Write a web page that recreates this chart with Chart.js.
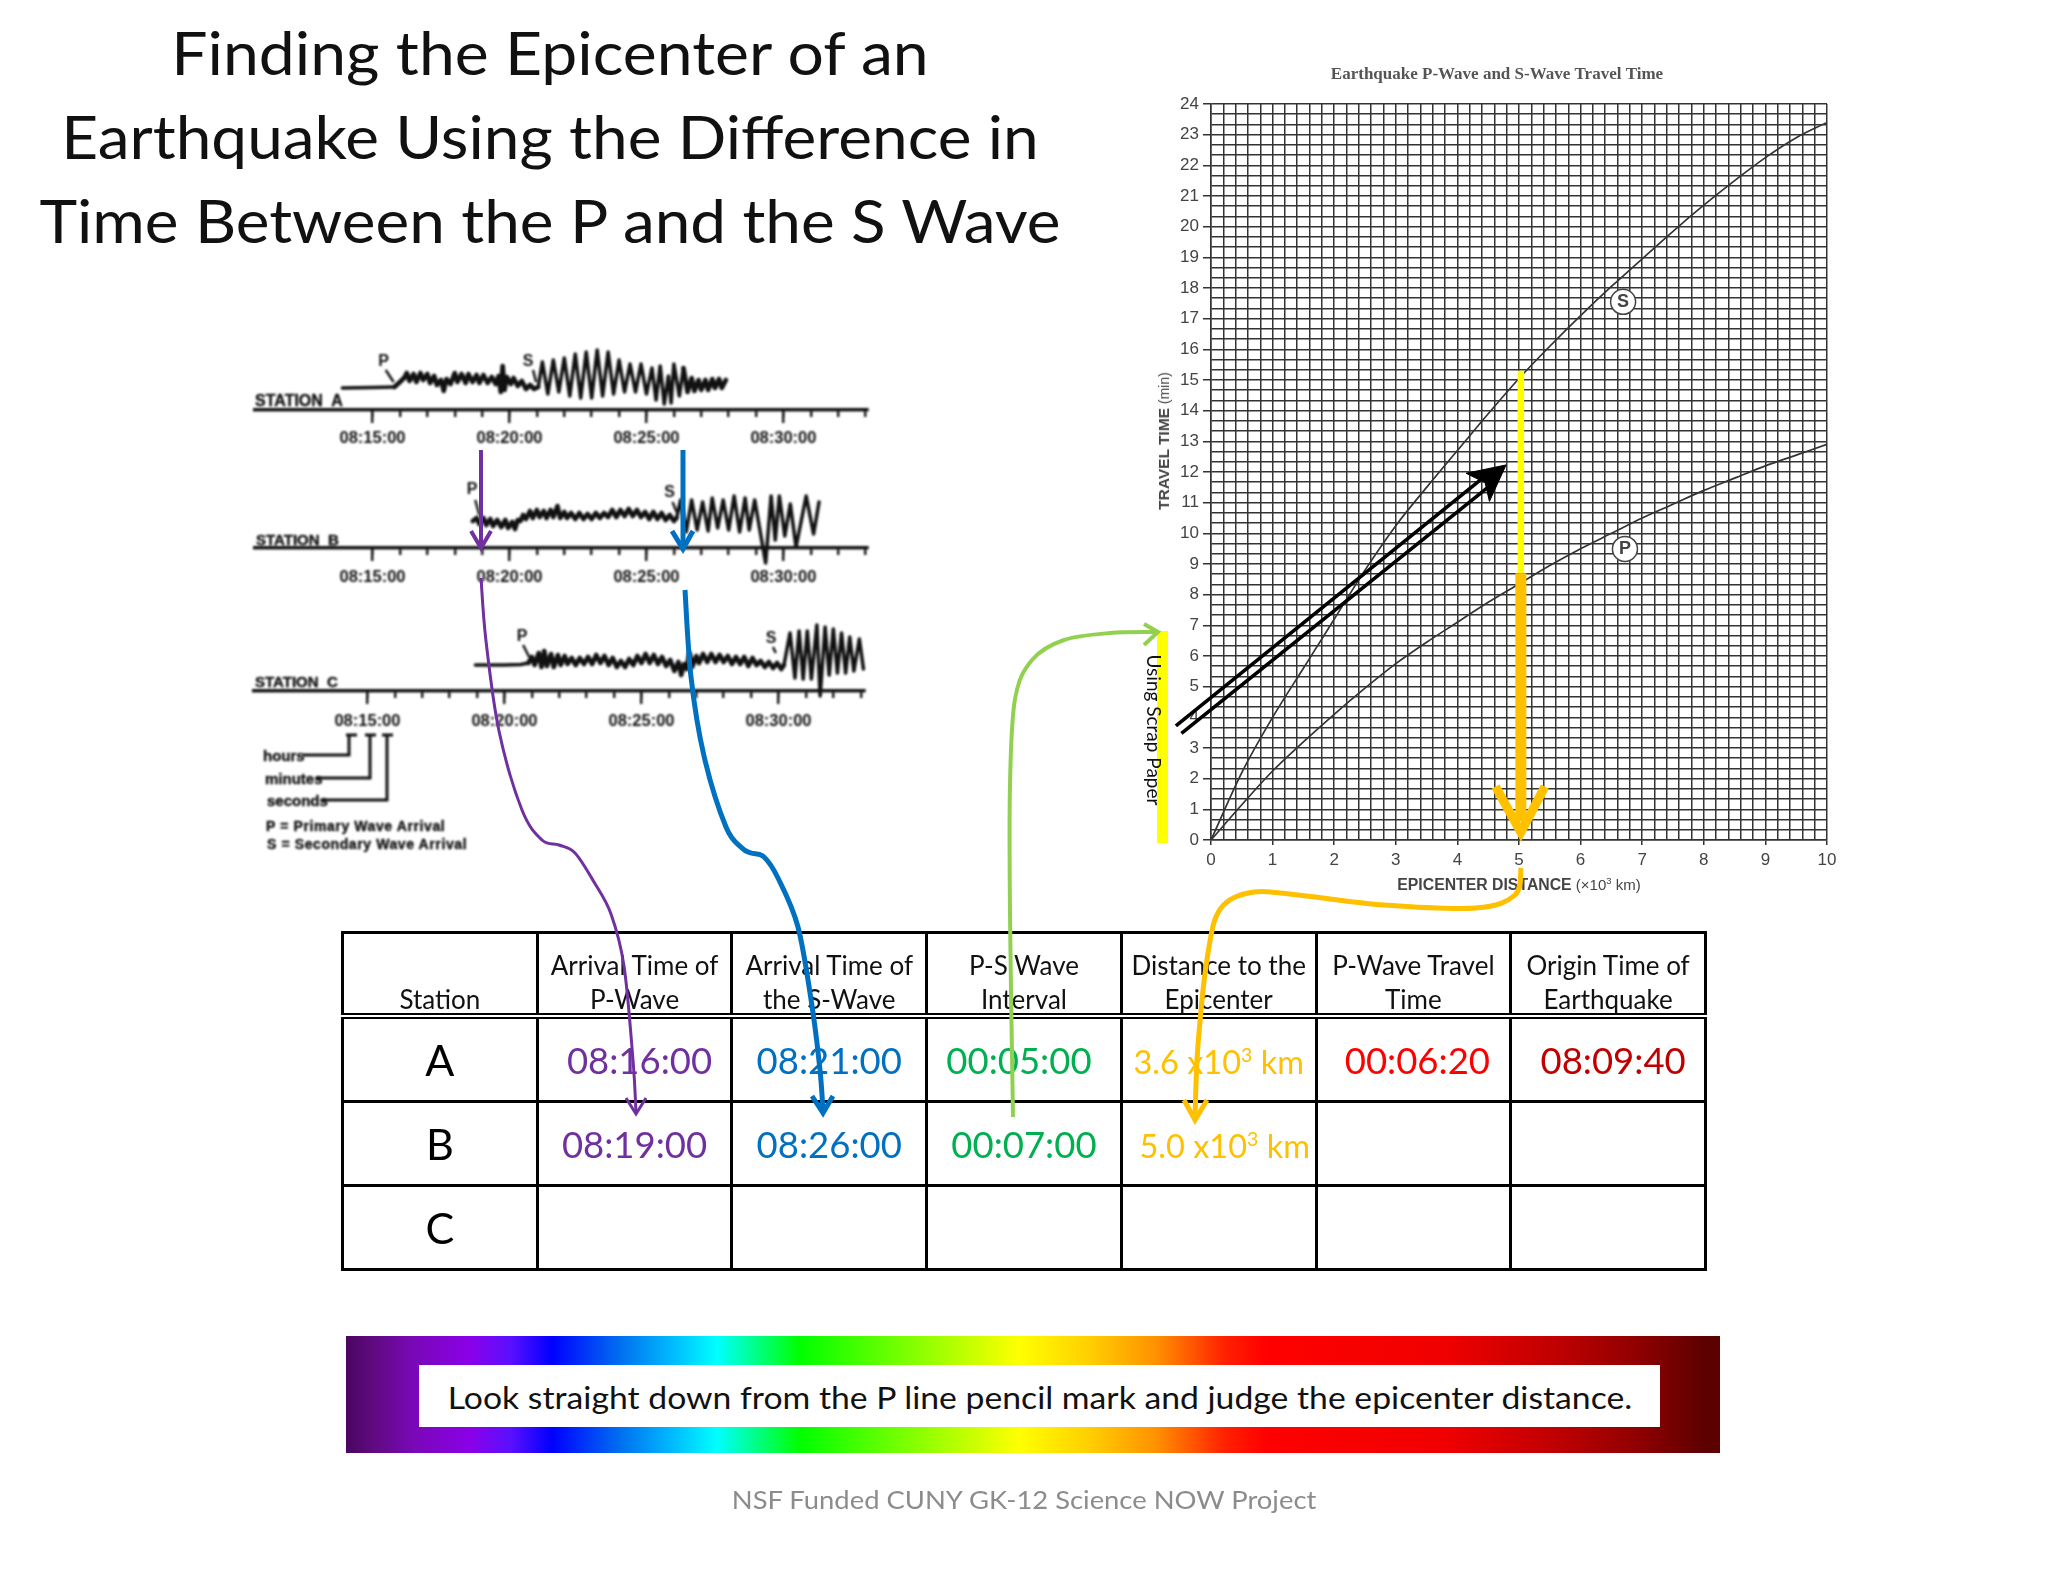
<!DOCTYPE html>
<html><head><meta charset="utf-8">
<script src="https://cdn.jsdelivr.net/npm/chart.js@4"></script>
<style>
html,body{margin:0;padding:0;background:#fff;width:2048px;height:1582px;overflow:hidden;font-family:Lato,sans-serif}
.abs{position:absolute;white-space:nowrap}
.c{transform:translate(-50%,-50%)}
canvas{position:absolute}
#seis{position:absolute;left:0;top:0;width:2048px;height:1582px;filter:blur(.9px)}
#seis .t{position:absolute;white-space:nowrap;font:bold 16px "Liberation Sans",sans-serif;color:#111;transform:translateY(-50%);-webkit-text-stroke:.4px #111}
table{position:absolute;left:341px;top:931px;width:1366px;height:338px;border-collapse:collapse;table-layout:fixed}
td{border:3.5px solid #000;text-align:center;padding:0}
tr.h td{height:78px;vertical-align:bottom;font-size:26px;line-height:34px;color:#111;padding-bottom:1px;border-bottom:6px double #000;white-space:nowrap}
tr.h td div{position:relative;top:4px}
tr.r td{height:81px;font-size:36.5px;vertical-align:middle;white-space:nowrap}
td span{position:relative}
td sup{font-size:.6em;line-height:0}
td.l{font-size:43px!important;color:#000}
</style></head><body>
<div class="abs c" id="t0" style="left:550px;top:52px;font-size:60px;color:#111">Finding the Epicenter of an</div>
<div class="abs c" id="t1" style="left:550px;top:136px;font-size:60px;color:#111">Earthquake Using the Difference in</div>
<div class="abs c" id="t2" style="left:550px;top:220px;font-size:60px;color:#111">Time Between the P and the S Wave</div>

<div id="seis">
 <canvas id="cA" style="left:240px;top:335px" width="640" height="125"></canvas>
 <canvas id="cB" style="left:240px;top:473px" width="640" height="125"></canvas>
 <canvas id="cC" style="left:240px;top:616px" width="640" height="125"></canvas>
 <div class="t" style="left:255px;top:401px">STATION&nbsp; A</div>
 <div class="t" style="left:256px;top:539px;font-size:15px">STATION&nbsp; B</div>
 <div class="t" style="left:255px;top:681px;font-size:15px">STATION&nbsp; C</div>
 <div class="t" style="left:263px;top:755px;font-size:15px">hours</div>
 <div class="t" style="left:265px;top:778px;font-size:15px">minutes</div>
 <div class="t" style="left:267px;top:800px;font-size:15px">seconds</div>
 <div class="t" style="left:266px;top:826px;font-size:14px;letter-spacing:.6px">P = Primary Wave Arrival</div>
 <div class="t" style="left:267px;top:844px;font-size:14px;letter-spacing:.6px">S = Secondary Wave Arrival</div>
 <svg width="2048" height="1582" style="position:absolute;left:0;top:0" fill="none" stroke="#111" stroke-width="3">
  <path d="M303 755H349V736M346 735H357M370 736V778H317M365 735H376M387 736V800H323M382 735H393"/>
 </svg>
</div>

<div class="abs" style="left:1157px;top:631px;width:11px;height:212px;background:#ffff00"></div>
<div class="abs c" style="left:1154px;top:730px;font-size:19px;color:#111;transform:translate(-50%,-50%) rotate(90deg)">Using Scrap Paper</div>
<canvas id="travel" style="left:1130px;top:40px" width="734" height="890"></canvas>
<div class="abs c" style="left:1164px;top:441px;font:14px 'Liberation Sans',sans-serif;color:#444;transform:translate(-50%,-50%) rotate(-90deg)"><b style="font-size:15.5px">TRAVEL TIME</b> (min)</div>
<div class="abs c" style="left:1519px;top:885px;font:15px 'Liberation Sans',sans-serif;color:#444"><b style="font-size:15.8px">EPICENTER DISTANCE</b> (×10<sup style="font-size:9.5px;line-height:0">3</sup> km)</div>

<table id="tbl"></table>

<div class="abs" style="left:346px;top:1336px;width:1374px;height:117px;background:linear-gradient(90deg,#4a0660 0%,#600a80 2%,#7a08b8 5%,#8a00e8 9%,#5a10ff 12%,#0000ff 15%,#0070f0 20%,#00c0ff 24%,#00ffff 27%,#00ff80 30%,#00ff00 33%,#80ff00 41%,#ffff00 49%,#ffd000 54%,#ff9000 59%,#ff2000 64%,#ff0000 67%,#f00000 80%,#c00000 88%,#900000 94%,#5c0000 99%)"></div>
<div class="abs" style="left:419px;top:1365px;width:1241px;height:62px;background:#fff"></div>
<div class="abs c" id="band" style="left:1040px;top:1397px;font-size:30px;color:#111">Look straight down from the P line pencil mark and judge the epicenter distance.</div>
<div class="abs c" id="foot" style="left:1024px;top:1499px;font-size:25px;color:#8c8c8c">NSF Funded CUNY GK-12 Science NOW Project</div>

<svg id="over" width="2048" height="1582" style="position:absolute;left:0;top:0;pointer-events:none" fill="none" stroke-linecap="butt" stroke-linejoin="miter"></svg>

<script>
// ---------- Travel-time chart data ----------
const distanceKm = [0,0.5,1,1.5,2,2.5,3,3.5,4,4.5,5,5.5,6,6.5,7,7.5,8,8.5,9,9.5,10];
const sWaveMin = [0,2.2,4.0,5.6,7.2,8.8,10.25,11.5,12.7,13.9,15.05,16.1,17.1,18.05,18.95,19.85,20.7,21.5,22.25,22.9,23.4];
const pWaveMin = [0,1.15,2.25,3.2,4.1,4.95,5.75,6.45,7.1,7.75,8.35,8.95,9.5,10.0,10.5,10.95,11.4,11.8,12.2,12.55,12.9];
const yellowBar = [[5.03,15.3],[5.03,8.7]];
const orangeBar = [[5.03,8.7],[5.03,0.6]];
const orangeHead = [[4.62,1.74],[5.03,0.25],[5.42,1.74]];
const blackUpper = [[-0.57,3.72],[4.41,11.8]];
const blackLower = [[-0.48,3.48],[4.52,11.54]];
const blackHead = [[4.79,12.23],[4.14,11.96],[4.45,11.65],[4.52,11.04],[4.79,12.23]];
const curveLabels = [['S',6.69,17.55],['P',6.72,9.49]];

// ---------- Seismogram data: [minutes after 08:00, amplitude above the time axis] ----------
const traceA = [[13.9,22],[15.0,22.5],[15.8,23],[16.0,28],[16.15,32],[16.25,37],[16.35,29],[16.5,36],[16.6,28],[16.75,37],[16.85,30],[17.0,36],[17.1,27],[17.25,34],[17.35,25],[17.5,30],[17.6,19],[17.7,31],[17.85,26],[18.0,37],[18.1,28],[18.25,36],[18.4,27],[18.5,36],[18.65,28],[18.8,35],[18.9,27],[19.05,35],[19.2,27],[19.35,33],[19.5,26],[19.6,34],[19.68,18],[19.75,44],[19.82,20],[19.9,33],[20.05,26],[20.15,32],[20.3,24],[20.45,29],[20.6,21],[20.75,25],[20.9,21],[21.05,23],[21.2,48],[21.4,16],[21.6,50],[21.8,18],[22.0,52],[22.2,14],[22.4,56],[22.6,12],[22.8,58],[23.0,12],[23.2,60],[23.4,14],[23.6,58],[23.8,16],[24.0,50],[24.2,18],[24.4,46],[24.6,18],[24.8,46],[25.0,16],[25.2,42],[25.35,10],[25.5,44],[25.65,6],[25.8,34],[25.9,7],[26.0,46],[26.2,14],[26.35,42],[26.5,18],[26.65,32],[26.75,19],[26.9,30],[27.0,20],[27.15,30],[27.25,20],[27.4,31],[27.5,22],[27.65,31],[27.75,22],[27.9,30]];
const traceB = [[18.66,27],[18.8,30],[18.9,24],[19.05,30],[19.15,23],[19.3,29],[19.4,22],[19.55,28],[19.7,21],[19.85,28],[19.95,20],[20.1,26],[20.2,19],[20.3,28],[20.4,27],[20.5,33],[20.6,29],[20.75,37],[20.85,30],[21.0,38],[21.1,31],[21.25,37],[21.35,30],[21.5,38],[21.6,31],[21.75,42],[21.85,30],[22.0,36],[22.1,30],[22.25,35],[22.4,29],[22.55,35],[22.7,29],[22.85,34],[23.0,29],[23.15,35],[23.3,30],[23.45,35],[23.6,31],[23.75,38],[23.9,31],[24.05,38],[24.2,32],[24.35,39],[24.5,32],[24.65,38],[24.8,31],[24.95,36],[25.1,29],[25.25,36],[25.4,29],[25.55,35],[25.7,28],[25.85,33],[26.0,27],[26.1,30],[26.25,48],[26.45,16],[26.65,48],[26.85,18],[27.05,46],[27.25,17],[27.4,50],[27.6,20],[27.8,48],[28.0,18],[28.2,52],[28.4,16],[28.6,50],[28.75,18],[28.95,48],[29.35,-15],[29.55,52],[29.7,8],[29.85,52],[30.05,12],[30.25,44],[30.46,1],[30.83,52],[31.1,14],[31.3,46]];
const traceC = [[18.94,26],[20.0,26],[20.6,26.5],[20.87,28],[21.0,34],[21.1,26],[21.25,38],[21.35,24],[21.45,40],[21.55,25],[21.7,37],[21.8,24],[21.95,36],[22.05,26],[22.2,35],[22.3,27],[22.45,33],[22.6,26],[22.75,33],[22.9,27],[23.05,34],[23.2,27],[23.35,36],[23.5,28],[23.65,35],[23.8,26],[23.95,33],[24.1,24],[24.25,30],[24.4,24],[24.55,32],[24.7,26],[24.85,35],[25.0,28],[25.15,37],[25.3,28],[25.45,36],[25.6,27],[25.75,34],[25.9,25],[26.05,31],[26.2,20],[26.35,29],[26.45,16],[26.55,27],[26.65,22],[26.75,38],[26.85,24],[27.0,35],[27.1,28],[27.25,37],[27.4,29],[27.55,37],[27.7,29],[27.85,36],[28.0,29],[28.15,35],[28.3,27],[28.45,34],[28.6,27],[28.75,34],[28.9,25],[29.05,33],[29.2,26],[29.35,30],[29.5,24],[29.65,29],[29.8,23],[29.95,28],[30.1,22],[30.2,26],[30.42,58],[30.6,13],[30.75,60],[30.9,12],[31.05,60],[31.2,12],[31.4,66],[31.52,-5],[31.7,64],[31.85,16],[32.0,62],[32.15,18],[32.3,58],[32.45,18],[32.6,54],[32.75,20],[32.95,52],[33.1,22]];
const minorMinutes = [15,16,17,18,19,20,21,22,23,24,25,26,27,28,29,30,31,32,33];
const majorMinutes = [15,20,25,30];
const arrivalMarksA = [['P',15.4,48,[[15.48,40],[15.77,28]]],['S',20.68,48,[[20.86,40],[20.97,28]]]];
const arrivalMarksB = [['P',18.63,58,[[18.75,48],[18.9,33]]],['S',25.84,55,[[25.95,46],[26.1,36]]]];
const arrivalMarksC = [['P',20.64,54,[[20.68,46],[20.9,34]]],['S',29.73,52,[[29.8,44],[29.9,38]]]];
const shakingA = [21.05,26.35];
const shakingB = [26.1,99];
const shakingC = [30.2,99];

// ---------- Table data ----------
const tableHeaders = ['Station','Arrival Time of<br>P-Wave','Arrival Time of<br>the S-Wave','P-S Wave<br>Interval','Distance to the<br>Epicenter','P-Wave Travel<br>Time','Origin Time of<br>Earthquake'];
const rowLabels = ['A','B','C'];
const rowA = ['08:16:00','08:21:00','00:05:00','3.6 x10<sup>3</sup> km','00:06:20','08:09:40'];
const rowB = ['08:19:00','08:26:00','00:07:00','5.0 x10<sup>3</sup> km','',''];
const rowC = ['','','','','',''];

// ---------- Styling for the table ----------
const cellColors = ['#7030a0','#0070c0','#00b050','#ffc000','#ff0000','#c00000'];
const cellShiftA = [5,0,-5,0,4,5];
const cellShiftB = [0,0,0,6,0,0];
const cellShiftC = [0,0,0,0,0,0];
let html = '<tr class="h">'+tableHeaders.map(h=>`<td><div>${h}</div></td>`).join('')+'</tr>';
[rowA,rowB,rowC].forEach((row,i)=>{
  const shift=[cellShiftA,cellShiftB,cellShiftC][i];
  html+=`<tr class="r"><td class="l">${rowLabels[i]}</td>`+row.map((v,j)=>{
    const small=j===3?'font-size:32.5px;':'';
    return `<td><span style="${small}left:${shift[j]}px;color:${cellColors[j]}">${v}</span></td>`;
  }).join('')+'</tr>';
});
document.getElementById('tbl').innerHTML=html;

// Fit Lato runs to the reference's line widths
[['t0',757],['t1',978],['t2',1021],['band',1185],['foot',585]].forEach(([id,w])=>{
  const e=document.getElementById(id);
  e.style.transform=`translate(-50%,-50%) scaleX(${w/e.offsetWidth})`;
});

// ---------- Charts ----------
const pts=a=>a.map(([x,y])=>({x,y}));
const letterPlugin={id:'letterMarks',afterDatasetsDraw(ch,a,o){
  const c=ch.ctx;c.save();c.fillStyle=o.color;c.font=o.font;c.textAlign='center';c.textBaseline='middle';
  (o.items||[]).forEach(([t,x,y])=>c.fillText(t,ch.scales.x.getPixelForValue(x),ch.scales.y.getPixelForValue(y)));
  c.restore();
}};
const thin=(data,color,w,extra)=>Object.assign({data:pts(data),borderColor:color,borderWidth:w,pointRadius:0,tension:0,clip:false,fill:false},extra||{});
const xTicks=[...Array(51).keys()].map(i=>i/5), yTicks=[...Array(73).keys()].map(i=>i/3);
const near=v=>Math.abs(v-Math.round(v))<1e-6;

new Chart(document.getElementById('travel'),{type:'line',plugins:[letterPlugin],data:{datasets:[
  {data:curveLabels.map(l=>({x:l[1],y:l[2]})),showLine:false,pointRadius:12.5,pointBackgroundColor:'#fff',pointBorderColor:'#444',pointBorderWidth:1.5},
  thin(blackHead,'#000',1,{fill:'shape',backgroundColor:'#000'}),
  thin(blackUpper,'#000',3.6),
  thin(blackLower,'#000',3.6),
  thin(orangeHead,'#ffc000',9,{borderJoinStyle:'miter'}),
  thin(orangeBar,'#ffc000',11),
  thin(yellowBar,'#ffff00',6.5),
  {label:'S wave',data:distanceKm.map((x,i)=>({x,y:sWaveMin[i]})),borderColor:'#333',borderWidth:1.7,pointRadius:0,cubicInterpolationMode:'monotone'},
  {label:'P wave',data:distanceKm.map((x,i)=>({x,y:pWaveMin[i]})),borderColor:'#333',borderWidth:1.7,pointRadius:0,cubicInterpolationMode:'monotone'}
]},options:{responsive:false,animation:false,devicePixelRatio:1,
  layout:{padding:{right:37,left:37,top:0,bottom:0}},
  plugins:{legend:{display:false},tooltip:{enabled:false},
    title:{display:true,text:'Earthquake P-Wave and S-Wave Travel Time',color:'#555',font:{family:'Liberation Serif',size:17,weight:'bold',lineHeight:1.118},padding:{top:25,bottom:20}},
    letterMarks:{items:curveLabels,color:'#444',font:'bold 18px "Liberation Sans"'}},
  scales:{
    x:{type:'linear',min:0,max:10,afterBuildTicks:s=>{s.ticks=xTicks.map(value=>({value}))},afterFit:s=>{s.height=90},
      grid:{color:'#333',lineWidth:1.5,tickLength:5,tickColor:c=>near(c.tick.value)?'#333':'transparent'},border:{color:'#333',width:1.5},
      ticks:{autoSkip:false,maxRotation:0,color:'#444',font:{family:'Liberation Sans',size:17},padding:5,callback:v=>near(v)?Math.round(v):''}},
    y:{type:'linear',min:0,max:24,afterBuildTicks:s=>{s.ticks=yTicks.map(value=>({value}))},afterFit:s=>{s.width=44},
      grid:{color:'#333',lineWidth:1.5,tickLength:8,tickColor:c=>near(c.tick.value)?'#333':'transparent'},border:{color:'#333',width:1.5},
      ticks:{autoSkip:false,color:'#444',font:{family:'Liberation Sans',size:17},padding:4,callback:v=>near(v)?Math.round(v):''}}
  }}});

function seismo(id,trace,marks,shaking,xmin,xmax,labelPad,padL,padR){
  const width=c=>{const a=c.p0.parsed.x,b=c.p1.parsed.x;return (b-a<0.2&&(a<shaking[0]||a>=shaking[1]))?4.6:3.5;};
  new Chart(document.getElementById(id),{type:'line',plugins:[letterPlugin],data:{datasets:[
    thin(trace,'#111',3.5,{xAxisID:'x',borderJoinStyle:'round',borderCapStyle:'round',segment:{borderWidth:width}}),
    ...marks.map(m=>thin(m[3],'#111',2.4,{xAxisID:'x'}))
  ]},options:{responsive:false,animation:false,devicePixelRatio:1,
    layout:{padding:{left:padL,right:padR}},
    plugins:{legend:{display:false},tooltip:{enabled:false},letterMarks:{items:marks,color:'#111',font:'bold 16px "Liberation Sans"'}},
    scales:{
      x:{type:'linear',position:'bottom',weight:-1,min:xmin,max:xmax,afterBuildTicks:s=>{s.ticks=minorMinutes.map(value=>({value}))},afterFit:s=>{s.height=0},
        grid:{drawOnChartArea:false,color:'#111',lineWidth:2.4,tickLength:7},border:{color:'#111',width:3.2},ticks:{display:false}},
      xLabels:{type:'linear',position:'bottom',weight:0,min:xmin,max:xmax,afterBuildTicks:s=>{s.ticks=majorMinutes.map(value=>({value}))},afterFit:s=>{s.height=50},
        grid:{drawOnChartArea:false,color:'#111',lineWidth:2.4,tickLength:13},border:{color:'#111',width:3.2},
        ticks:{autoSkip:false,maxRotation:0,color:'#111',padding:labelPad,font:{family:'Liberation Sans',size:16.5,weight:'bold'},callback:v=>`08:${v}:00`}},
      y:{display:false,min:0,max:75}
    }}});
}
seismo('cA',traceA,arrivalMarksA,shakingA,10.71,33.05,6,15,13);
seismo('cB',traceB,arrivalMarksB,shakingB,10.71,33.05,7,15,13);
seismo('cC',traceC,arrivalMarksC,shakingC,10.86,33.12,8,14,16);

// ---------- Hand-drawn connector arrows (slide annotation, not data) ----------
const svg=document.getElementById('over');
function smooth(p){let d=`M${p[0][0]} ${p[0][1]}`;for(let i=0;i<p.length-1;i++){const a=p[Math.max(i-1,0)],b=p[i],c=p[i+1],e=p[Math.min(i+2,p.length-1)];
  d+=`C${b[0]+(c[0]-a[0])/6} ${b[1]+(c[1]-a[1])/6} ${c[0]-(e[0]-b[0])/6} ${c[1]-(e[1]-b[1])/6} ${c[0]} ${c[1]}`;}return d;}
function path(d,col,w){const e=document.createElementNS('http://www.w3.org/2000/svg','path');e.setAttribute('d',d);e.setAttribute('stroke',col);e.setAttribute('stroke-width',w);svg.appendChild(e);}
const poly=p=>'M'+p.map(a=>a.join(' ')).join('L');
const PUR='#7030a0',BLU='#0070c0',GRN='#92d050',ORG='#ffc000';
path(poly([[481,450],[481,546]]),PUR,4);path(poly([[471,531],[481,548],[491,531]]),PUR,4);
path(poly([[683,450],[683,547]]),BLU,5);path(poly([[672,531],[683,549],[693,531]]),BLU,5);
path(smooth([[481,578],[486,641],[499,731],[522,810],[542,840],[559,845],[575,853],[594,882],[611,914],[624,966],[633,1060],[636,1112]]),PUR,3);
path(poly([[626,1098],[636,1114],[646,1098]]),PUR,3);
path(smooth([[685,590],[691,677],[704,756],[726,827],[742,848],[751,853],[764,857],[778,878],[798,927],[812,1006],[820,1070],[823,1111]]),BLU,5);
path(poly([[812,1096],[823,1113],[833,1096]]),BLU,5);
path(smooth([[1013,1117],[1010,914],[1010,784],[1015,699],[1032,660],[1064,640],[1110,633],[1155,632]]),GRN,4);
path(poly([[1144,624],[1158,632],[1144,645]]),GRN,4);
path(smooth([[1521,868],[1515,895],[1476,908],[1384,905],[1306,896],[1254,892],[1221,908],[1208,953],[1198,1045],[1195,1118]]),ORG,5);
path(poly([[1184,1100],[1195,1120],[1207,1100]]),ORG,5);
</script>
</body></html>
